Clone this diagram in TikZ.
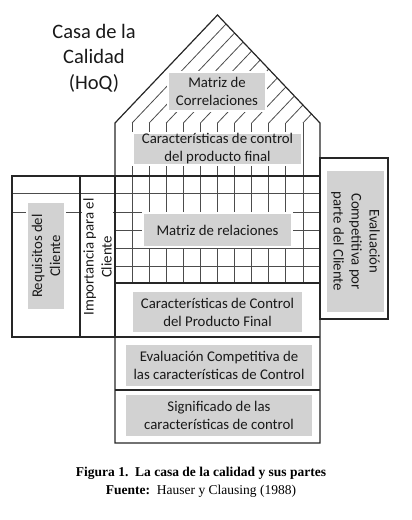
\documentclass[tikz,border=0pt]{standalone}
\usepackage{fontspec}
\setmainfont{Carlito}
\newfontfamily\capfont{Liberation Serif}
\usetikzlibrary{calc}

\begin{document}
\begin{tikzpicture}[x=1pt, y=-1pt]
	\tikzstyle{frame} = [line width=1.2pt, draw=black!85]
	\tikzstyle{grid_line} = [line width=0.8pt, draw=black!70]
	\tikzstyle{part_i} = [fill=gray!35, draw=white, line width=2.5pt, inner sep=0pt, align=center, text=black!90, font=\fontsize{14.8}{18}\selectfont]
	\tikzstyle{side_i} = [fill=white, inner sep=1pt, align=center, text=black!90, font=\fontsize{14.8}{18}\selectfont]
	\def\colw{17.083}
	\def\roofbase{123}
	\def\gridbot{283}

	\useasboundingbox (0,0) rectangle (412,520);

	\coordinate (apex) at (217.5,15);
	\coordinate (roofL) at (115,\roofbase);
	\coordinate (roofR) at (320,\roofbase);

	% hatching of the roof
	\foreach \i in {1,...,11}
		\draw[grid_line] (115+\i*\colw, \roofbase) -- ($(apex)!\i/12!(roofR)$);

	% matrix
	\foreach \i in {1,...,11}
		\draw[grid_line] (115+\i*\colw, \roofbase) -- (115+\i*\colw, \gridbot);
	\foreach \y in {230,248,266}
		\draw[grid_line] (115,\y) -- (320,\y);
	\foreach \y in {193,212}
		\draw[grid_line] (12,\y) -- (320,\y);

	\node[font=\fontsize{20.5}{25.5}\selectfont, align=center, text=black!90] (title) at (94,58) {Casa de la\\Calidad\\(HoQ)};

	\node[part_i, minimum width=98, minimum height=39] (correl) at (217,91.5) {Matriz de\\Correlaciones};
	\node[part_i, minimum width=169, minimum height=32] (techtop) at (217.5,149) {Características de control\\del producto final};
	\node[part_i, minimum width=149, minimum height=34] (relmat) at (217.5,230) {Matriz de relaciones};
	\node[part_i, rotate=90, minimum width=108, minimum height=38] (custreq) at (46,256) {Requisitos del\\Cliente};
	\node[side_i, rotate=90] (custimp) at (97.5,257) {Importancia para el\\Cliente};
	\node[part_i, rotate=-90, minimum width=143, minimum height=59] (compeval) at (355.5,241.5) {Evaluación\\Competitiva por\\parte del Cliente};
	\node[part_i, minimum width=171, minimum height=42] (techbot) at (217.5,312) {Características de Control\\del Producto Final};
	\node[part_i, minimum width=188, minimum height=43] (techeval) at (219,365.5) {Evaluación Competitiva de\\las características de Control};
	\node[part_i, minimum width=188, minimum height=43] (techsig) at (219,415.5) {Significado de las\\características de control};

	% outline of the house
	\draw[frame] (roofL) -- (apex) -- (roofR) -- (320,443) -- (115,443) -- cycle;
	\draw[frame] (12,176) rectangle (115,337);
	\draw[frame] (80,176) -- (80,337);
	\draw[frame] (320,158) rectangle (388,319);
	\foreach \y in {176,283,337,390}
		\draw[frame] (115,\y) -- (320,\y);

	\node[font=\capfont\fontsize{13.5}{18}\selectfont, align=center] (caption) at (201,482) {\textbf{Figura 1.\ \ La casa de la calidad y sus partes}\\\textbf{Fuente:}\ \ Hauser y Clausing (1988)};
\end{tikzpicture}
\end{document}
